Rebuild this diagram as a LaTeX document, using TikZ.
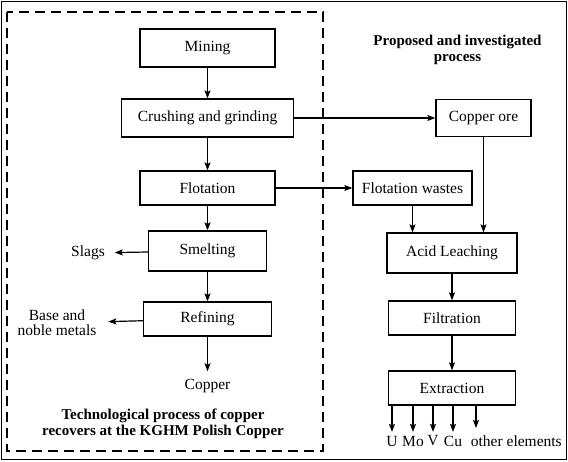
\documentclass[tikz,border=0pt]{standalone}
\usepackage{fontspec}
\setmainfont{Liberation Serif}
\usetikzlibrary{arrows.meta}

\begin{document}
\begin{tikzpicture}[x=1pt,y=-1pt,>={Stealth[length=8pt,width=6pt,inset=1.5pt]},line width=1.2pt,
  proc node/.style={draw,rectangle,minimum height=34pt,inner sep=2pt,font=\fontsize{15.5}{18}\selectfont},
  out node/.style={font=\fontsize{15.5}{18}\selectfont,align=center},
  head node/.style={font=\fontsize{15}{18}\selectfont\bfseries,align=center}]

  \useasboundingbox (0,0) rectangle (568,461);
  \draw[line width=1pt] (1,1) rectangle (566,459);
  \draw[line width=2.2pt,dash pattern=on 10pt off 6pt] (7,12) rectangle (323,451);

  % KGHM line
  \node[proc node,minimum width=135pt,minimum height=38pt] (mining) at (207.5,48) {Mining};
  \node[proc node,minimum width=172pt,minimum height=38pt] (crush) at (207.5,118) {Crushing and grinding};
  \node[proc node,minimum width=135pt] (flot) at (207.5,188) {Flotation};
  \node[proc node,minimum width=118pt,minimum height=40pt] (smelt) at (207.5,251) {Smelting};
  \node[proc node,minimum width=128pt] (refin) at (207.5,319) {Refining};

  \node[out node] (slags) at (88,253) {Slags};
  \node[out node] (metals) at (57,323) {Base and\\[-3pt]noble metals};
  \node[out node] (copper) at (207.5,386) {Copper};
  \node[head node] (kghm) at (163,424) {Technological process of copper\\[-2pt]recovers at the KGHM Polish Copper};

  % proposed line
  \node[head node] (prop) at (457.5,50) {Proposed and investigated\\[-2pt]process};
  \node[proc node,minimum width=95pt,minimum height=37pt] (ore) at (483.5,118) {Copper ore};
  \node[proc node,minimum width=119pt] (waste) at (412.5,188) {Flotation wastes};
  \node[proc node,minimum width=130pt,minimum height=40pt] (acid) at (452,253) {Acid Leaching};
  \node[proc node,minimum width=127pt] (filt) at (452,318) {Filtration};
  \node[proc node,minimum width=127pt] (extr) at (452,388) {Extraction};

  \node[out node] (u) at (392,441) {U};
  \node[out node] (mo) at (413,441) {Mo};
  \node[out node] (v) at (433,441) {V};
  \node[out node] (cu) at (453,441) {Cu};
  \node[out node,anchor=west] (other) at (467,441) {other elements};
  \coordinate (oth) at (476,428);

  \path[->,every node/.style={font=\small}]
    (mining) edge (crush)
    (crush) edge (flot)
    (flot) edge (smelt)
    (smelt) edge (refin)
    (refin) edge[shorten >=4pt] (copper)
    (smelt) edge[shorten >=6pt] (slags)
    (refin) edge[shorten >=8pt] (metals)
    (crush) edge (ore)
    (flot) edge (waste)
    (waste) edge (waste |- acid.north)
    (ore) edge (ore |- acid.north)
    (acid) edge (filt)
    (filt) edge (extr)
    (extr.south -| u) edge (u)
    (extr.south -| mo) edge (mo)
    (extr.south -| v) edge (v)
    (extr.south -| cu) edge (cu)
    (extr.south -| oth) edge (oth)
    ;
\end{tikzpicture}
\end{document}
